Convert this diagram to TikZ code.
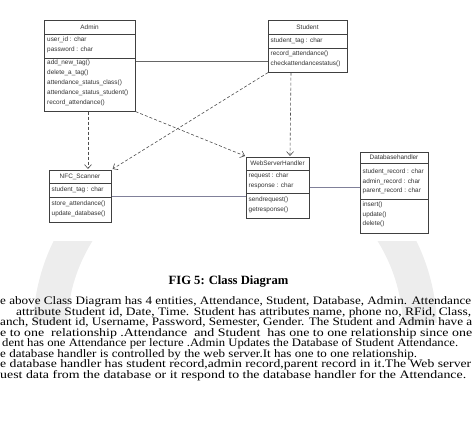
\documentclass[tikz,border=0pt]{standalone}
\usepackage{fontspec}
\usepackage{graphicx}
\setmainfont{Liberation Serif}
\newfontfamily\umlfont{Liberation Sans}
\usetikzlibrary{calc,arrows.meta}
\newsavebox\fitbox
\newlength\fitlen
\newcommand\fitline[2]{\sbox\fitbox{#2}\setlength\fitlen{\wd\fitbox}\pgfmathsetmacro\fitratio{#1/\fitlen}\scalebox{\fitratio}[1]{\usebox\fitbox}}
\tikzset{
  cls/.style={draw=black!75, line width=0.6pt, fill=white, inner sep=0pt, anchor=north west},
  divline/.style={draw=black!75, line width=0.6pt},
  ttl/.style={font=\umlfont\fontsize{6.4}{7}\selectfont, text=black!80, inner sep=0pt},
  mem/.style={font=\umlfont\fontsize{6.4}{7}\selectfont, text=black!80, inner sep=0pt, anchor=west},
  assoc/.style={draw=black!60, line width=0.6pt},
  assocb/.style={draw=blue!20!black!50, line width=0.6pt},
  dep/.style={draw=black!70, line width=0.6pt, dash pattern=on 3pt off 2pt, -{Straight Barb[length=4pt,width=7pt]}},
  body/.style={font=\fontsize{11.4}{10.43}\selectfont, inner sep=0pt, anchor=base west},
  figcaption/.style={font=\bfseries\fontsize{12.6}{13}\selectfont, inner sep=0pt, anchor=base},
  wm/.style={draw=black!7, line width=34pt}
}
\begin{document}
\begin{tikzpicture}[x=1pt,y=-1pt]
\useasboundingbox (0,0) rectangle (474,430);
% watermark
\begin{scope}
\clip (0,242) rectangle (474,430);
\draw[wm] (235,330) ++(-178:185) arc[start angle=-178, end angle=-2, radius=185];
\end{scope}

% Admin
\node[cls, minimum width=91pt, minimum height=91pt] (admin) at (44,20) {};
\draw[divline] ($(admin.north west)+(0,14)$) -- ($(admin.north east)+(0,14)$);
\draw[divline] ($(admin.north west)+(0,38)$) -- ($(admin.north east)+(0,38)$);
\node[ttl] (admint) at (89.5,27) {Admin};
\node[mem] (a1) at (47,40) {user\_id : char};
\node[mem] (a2) at (47,50) {password : char};
\node[mem] (a3) at (47,63) {add\_new\_tag()};
\node[mem] (a4) at (47,73) {delete\_a\_tag()};
\node[mem] (a5) at (47,83) {attendance\_status\_class()};
\node[mem] (a6) at (47,93) {attendance\_status\_student()};
\node[mem] (a7) at (47,102.5) {record\_attendance()};

% Student
\node[cls, minimum width=79pt, minimum height=52pt] (student) at (268,20) {};
\draw[divline] ($(student.north west)+(0,14)$) -- ($(student.north east)+(0,14)$);
\draw[divline] ($(student.north west)+(0,28)$) -- ($(student.north east)+(0,28)$);
\node[ttl] (studentt) at (307.5,27) {Student};
\node[mem] (s1) at (270.5,40.5) {student\_tag : char};
\node[mem] (s2) at (270.5,53.5) {record\_attendance()};
\node[mem] (s3) at (270.5,64) {checkattendancestatus()};

% NFC_Scanner
\node[cls, minimum width=62pt, minimum height=52pt] (nfc) at (49,170) {};
\draw[divline] ($(nfc.north west)+(0,13)$) -- ($(nfc.north east)+(0,13)$);
\draw[divline] ($(nfc.north west)+(0,27)$) -- ($(nfc.north east)+(0,27)$);
\node[ttl] (nfct) at (80,176.5) {NFC\_Scanner};
\node[mem] (n1) at (51.5,190) {student\_tag : char};
\node[mem] (n2) at (51.5,203.5) {store\_attendance()};
\node[mem] (n3) at (51.5,213.5) {update\_database()};

% WebServerHandler
\node[cls, minimum width=63pt, minimum height=61pt] (ws) at (246,157) {};
\draw[divline] ($(ws.north west)+(0,13)$) -- ($(ws.north east)+(0,13)$);
\draw[divline] ($(ws.north west)+(0,36)$) -- ($(ws.north east)+(0,36)$);
\node[ttl] (wst) at (277.5,163.5) {WebServerHandler};
\node[mem] (w1) at (248.5,176) {request : char};
\node[mem] (w2) at (248.5,185.5) {response : char};
\node[mem] (w3) at (248.5,200) {sendrequest()};
\node[mem] (w4) at (248.5,210) {getresponse()};

% Databasehandler
\node[cls, minimum width=68pt, minimum height=81pt] (db) at (360,152) {};
\draw[divline] ($(db.north west)+(0,11)$) -- ($(db.north east)+(0,11)$);
\draw[divline] ($(db.north west)+(0,47)$) -- ($(db.north east)+(0,47)$);
\node[ttl] (dbt) at (394,157.5) {Databasehandler};
\node[mem] (d1) at (362.5,172) {student\_record : char};
\node[mem] (d2) at (362.5,181.5) {admin\_record : char};
\node[mem] (d3) at (362.5,191) {parent\_record : char};
\node[mem] (d4) at (362.5,205) {insert()};
\node[mem] (d5) at (362.5,214.5) {update()};
\node[mem] (d6) at (362.5,224) {delete()};

% associations
\draw[assoc] ($(admin.north east)+(0,41)$) -- ($(student.north west)+(0,41)$);
\draw[assocb] ($(nfc.north east)+(0,26.5)$) -- ($(ws.north west)+(0,39.5)$);
\draw[assocb] ($(ws.north east)+(0,30)$) -- ($(db.north west)+(0,35)$);

% dependencies
\draw[dep] ($(admin.south west)+(44,0)$) -- ($(nfc.north west)+(39,-1)$);
\draw[dep] (admin.south east) -- ($(ws.north west)+(-1,-1)$);
\draw[dep] (student.south west) -- ($(nfc.north east)+(1,-1)$);
\draw[dep] ($(student.south west)+(23,0)$) -- ($(ws.north west)+(44,-1)$);

% caption and text
\node[figcaption] (caption) at (228.5,285) {FIG 5: Class Diagram};
\node[body] (para) at (0,305) {\vtop{\baselineskip=10.43pt\lineskiplimit=-100pt\lineskip=0pt
\hbox{\fitline{471pt}{e above Class Diagram has 4 entities, Attendance, Student, Database, Admin. Attendance}}
\hbox{\hspace*{16pt}\fitline{455pt}{attribute Student id, Date, Time. Student has attributes name, phone no, RFid, Class,}}
\hbox{\fitline{472pt}{anch, Student id, Username, Password, Semester, Gender. The Student and Admin have a}}
\hbox{\fitline{472pt}{e to one\ \ relationship .Attendance\ \ and Student\ \ has one to one relationship since one}}
\hbox{\hspace*{2pt}\fitline{456pt}{dent has one Attendance per lecture .Admin Updates the Database of Student Attendance.}}
\hbox{\fitline{417pt}{e database handler is controlled by the web server.It has one to one relationship.}}
\hbox{\fitline{471pt}{e database handler has student record,admin record,parent record in it.The Web server}}
\hbox{\fitline{466pt}{uest data from the database or it respond to the database handler for the Attendance.}}}};
\end{tikzpicture}
\end{document}
